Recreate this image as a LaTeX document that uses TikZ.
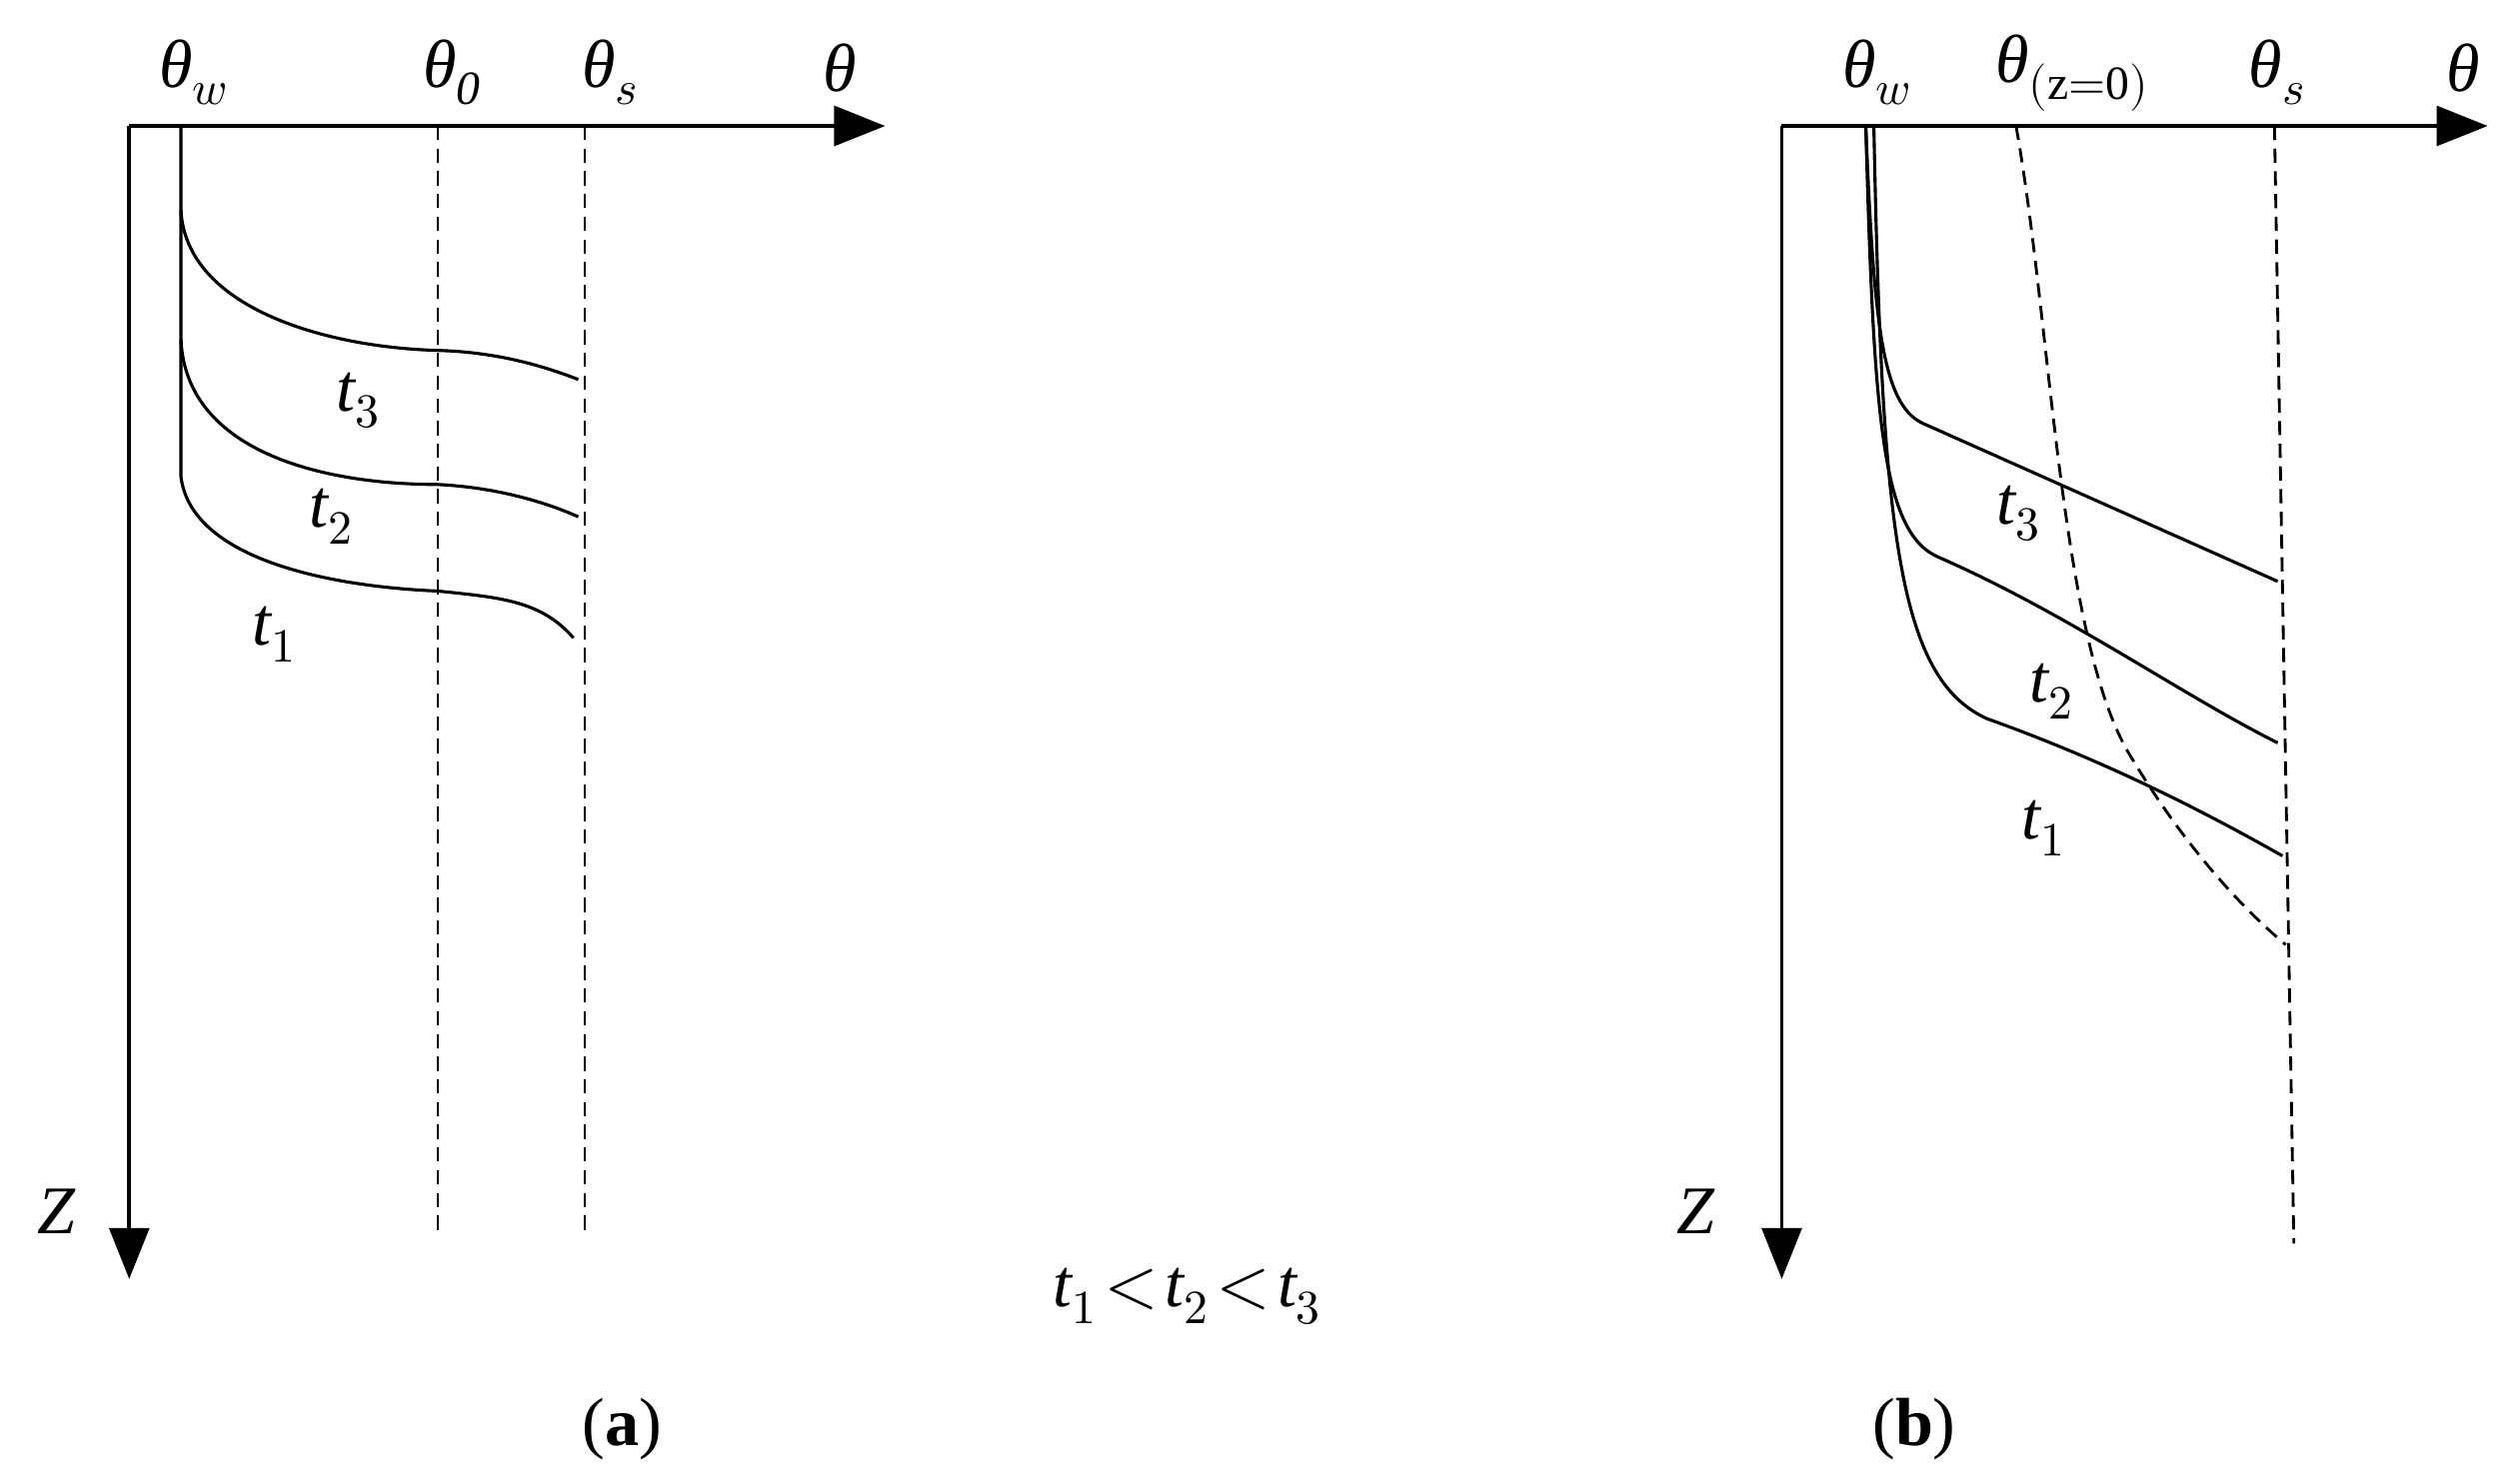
\documentclass[tikz,border=0pt]{standalone}
\usepackage{fontspec}
\setmainfont{Liberation Serif}
\usepackage{unicode-math}
\setmathfont{Latin Modern Math}
\usetikzlibrary{arrows.meta}
\begin{document}
\begin{tikzpicture}[x=0.02cm,y=-0.02cm,
 ax/.style={line width=1.4pt,-{Triangle[length=18pt,width=14pt]}},
 cur/.style={line width=1.1pt},
 dsh/.style={line width=1pt,dash pattern=on 5pt off 3pt},
 lab/.style={font=\fontsize{24}{28}\selectfont},
 tl/.style={font=\fontsize{24}{28}\selectfont}]
\useasboundingbox (0,0) rectangle (1560,918);
% panel a
\coordinate (Oa) at (80,78);
\coordinate (Xa) at (548,78);
\coordinate (Za) at (80,792);
\draw[ax] (Oa) -- (Xa);
\draw[ax] (Oa) -- (Za);
\node[lab] (twa) at (120,45) {$\mathit{θ}_{w}$};
\node[lab] (t0a) at (280,45) {$\mathit{θ}_{\mathit{0}}$};
\node[lab] (tsa) at (378,45) {$\mathit{θ}_{s}$};
\node[lab] (tha) at (520,42) {$\mathit{θ}$};
\node[lab] (za) at (35,750) {$\mathit{Z}$};
\coordinate (d1t) at (271,78); \coordinate (d1b) at (271,765);
\coordinate (d2t) at (362,78); \coordinate (d2b) at (362,765);
\draw[dsh] (d1t) -- (d1b);
\draw[dsh] (d2t) -- (d2b);
\draw[cur] (112,78) -- (112,130) .. controls (115,190) and (200,215) .. (271,217) .. controls (310,218) and (340,228) .. (358,235);
\draw[cur] (112,130) -- (112,210) .. controls (115,280) and (200,300) .. (271,300) .. controls (310,302) and (340,312) .. (358,320);
\draw[cur] (112,210) -- (112,295) .. controls (118,345) and (200,363) .. (271,366) .. controls (310,370) and (335,372) .. (355,395);
\node[tl] (t3a) at (222,248) {$\mathit{t}_{3}$};
\node[tl] (t2a) at (205,320) {$\mathit{t}_{2}$};
\node[tl] (t1a) at (170,393) {$\mathit{t}_{1}$};
% panel b
\coordinate (Ob) at (1103,78);
\coordinate (Xb) at (1540,78);
\coordinate (Zb) at (1103,792);
\draw[ax] (Ob) -- (Xb);
\draw[ax] (Ob) -- (Zb);
\node[lab] (twb) at (1162,45) {$\mathit{θ}_{w}$};
\node[lab] (tzb) at (1283,45) {$\mathit{θ}_{\mathrm{(z{=}0)}}$};
\node[lab] (tsb) at (1410,45) {$\mathit{θ}_{s}$};
\node[lab] (thb) at (1525,42) {$\mathit{θ}$};
\node[lab] (zb) at (1050,750) {$\mathit{Z}$};
\coordinate (d3t) at (1408,78); \coordinate (d3b) at (1420,770);
\draw[dsh] (d3t) -- (d3b);
\draw[dsh] (1248,78) .. controls (1270,200) and (1275,400) .. (1320,470) .. controls (1350,520) and (1385,560) .. (1415,585);
\draw[cur] (1155,78) .. controls (1160,200) and (1165,250) .. (1190,262) -- (1410,360);
\draw[cur] (1155,78) .. controls (1160,260) and (1165,330) .. (1200,345) .. controls (1280,380) and (1350,430) .. (1410,460);
\draw[cur] (1160,78) .. controls (1165,330) and (1175,420) .. (1230,445) .. controls (1300,470) and (1360,500) .. (1413,530);
\node[tl] (t3b) at (1250,318) {$\mathit{t}_{3}$};
\node[tl] (t2b) at (1270,428) {$\mathit{t}_{2}$};
\node[tl] (t1b) at (1265,513) {$\mathit{t}_{1}$};
% common
\node[tl] (ord) at (735,803) {$\mathit{t}_{1}\!<\!\mathit{t}_{2}\!<\!\mathit{t}_{3}$};
\node[tl] (ca) at (385,885) {(\textbf{a})};
\node[tl] (cb) at (1185,885) {(\textbf{b})};
\end{tikzpicture}
\end{document}
